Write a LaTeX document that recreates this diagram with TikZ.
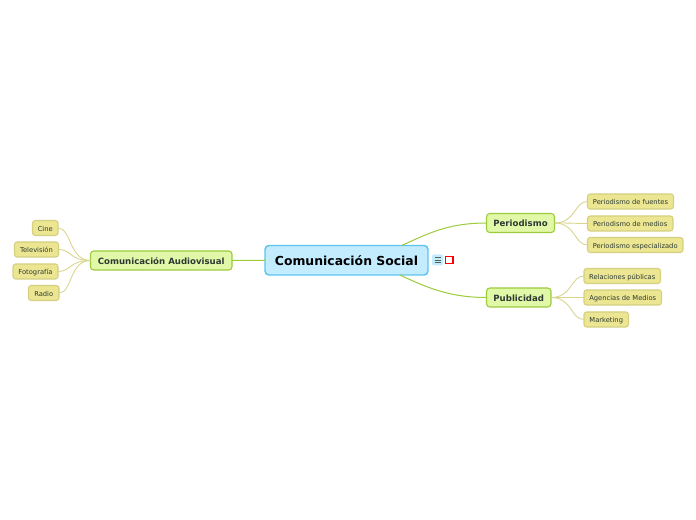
\documentclass[tikz,border=0pt]{standalone}
\usepackage{fontspec}
\setmainfont{DejaVu Sans}
\definecolor{rootfill}{HTML}{C4ECFF}
\definecolor{rootline}{HTML}{5CC4EE}
\definecolor{mainfill}{HTML}{E0F8A8}
\definecolor{mainline}{HTML}{9CCB3C}
\definecolor{leaffill}{HTML}{ECE692}
\definecolor{leafline}{HTML}{D4D080}
\definecolor{leafedge}{HTML}{D8D48C}
\definecolor{txt}{HTML}{2C3A33}
\tikzset{
  boxbase/.style={rectangle,anchor=center,inner sep=0pt,outer sep=0pt},
  rootbox/.style={boxbase,draw=rootline,fill=rootfill,line width=1.1pt,rounded corners=3pt,
    text=black,font=\fontsize{9.3pt}{11pt}\bfseries},
  mainbox/.style={boxbase,draw=mainline,fill=mainfill,line width=0.8pt,rounded corners=2.4pt,
    text=txt,font=\fontsize{6.45pt}{8pt}\bfseries},
  leafbox/.style={boxbase,draw=leafline,fill=leaffill,line width=0.8pt,rounded corners=2pt,
    text=txt,font=\fontsize{5.05pt}{6pt}\selectfont},
  mainlink/.style={draw=mainline,line width=0.75pt},
  leaflink/.style={draw=leafedge,line width=0.65pt},
}
\newcommand{\bx}[7]{% style,name,x0,y0,x1,y1,text
  \node[#1,minimum width={(#5-#3)*0.75pt},minimum height={(#6-#4)*0.75pt}] (#2) at ({(#3+#5)/2},{(#4+#6)/2}) {\raisebox{-0.45em}[0pt][0pt]{#7}};}
\begin{document}
\begin{tikzpicture}[x=0.75pt,y=-0.75pt]
\useasboundingbox (0,0) rectangle (696,520);
\bx{rootbox}{root}{265}{245.5}{428}{275}{Comunicación Social}
\bx{mainbox}{aud}{90.5}{251}{232}{270}{Comunicación Audiovisual}
\bx{mainbox}{per}{486.5}{213.5}{554.5}{232.5}{Periodismo}
\bx{mainbox}{pub}{486.5}{288}{551}{307}{Publicidad}
\bx{leafbox}{cine}{32.5}{220.5}{58}{235.5}{Cine}
\bx{leafbox}{tele}{14.5}{242}{58.5}{257}{Televisión}
\bx{leafbox}{foto}{13}{264}{58}{279}{Fotografía}
\bx{leafbox}{radio}{28.5}{285.5}{59}{300.5}{Radio}
\bx{leafbox}{pf}{587.5}{194}{673.5}{209}{Periodismo de fuentes}
\bx{leafbox}{pm}{587.5}{216}{673}{231}{Periodismo de medios}
\bx{leafbox}{pe}{587.5}{237.5}{683}{252.5}{Periodismo especializado}
\bx{leafbox}{rp}{584}{268.5}{660.5}{283.5}{Relaciones públicas}
\bx{leafbox}{am}{584}{290}{661.5}{305}{Agencias de Medios}
\bx{leafbox}{mk}{584}{312}{628.5}{327}{Marketing}
\draw[mainlink] (root.west) -- (aud.east);
\draw[mainlink] ([xshift=102.5pt]root.north west) .. controls +(18pt,8pt) and +(-30pt,0pt) .. (per.west);
\draw[mainlink] ([xshift=101pt]root.south west) .. controls +(18pt,-8pt) and +(-30pt,0pt) .. (pub.west);
\foreach \t in {cine,tele,foto,radio}{
  \draw[leaflink] (aud.west) .. controls +(-16pt,0pt) and +(10pt,0pt) .. (\t.east);
}
\foreach \t in {pf,pm,pe}{
  \draw[leaflink] (per.east) .. controls +(16pt,0pt) and +(-10pt,0pt) .. (\t.west);
}
\foreach \t in {rp,am,mk}{
  \draw[leaflink] (pub.east) .. controls +(16pt,0pt) and +(-10pt,0pt) .. (\t.west);
}
% note and task icons
\fill[rootfill,rounded corners=1pt] (432,254.5) rectangle (443,265.5);
\foreach \yy in {257.5,260,262.5}{\draw[txt!80,line width=0.7pt] (434.5,\yy) -- (440.5,\yy);}
\draw[red,line width=0.9pt,fill=white] (445.8,256.3) rectangle (453,263.8);
\end{tikzpicture}
\end{document}
